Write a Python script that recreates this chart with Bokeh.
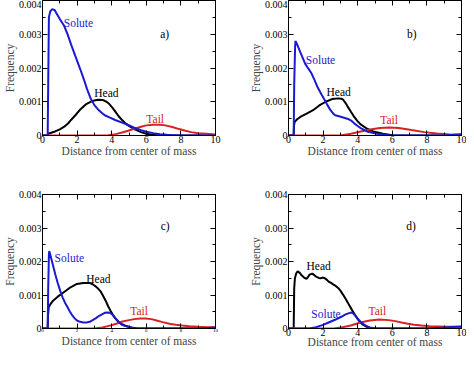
from bokeh.plotting import figure
from bokeh.models import LinearAxis, SingleIntervalTicker, Label, Range1d, PrintfTickFormatter
from bokeh.layouts import row, column
from bokeh.embed import file_html
from bokeh.resources import INLINE

FONT = "Liberation Serif"
BLUE = "#1a1ad2"
RED = "#d82222"
BLACK = "#000000"

X_LABEL = "Distance from center of mass"
Y_LABEL = "Frequency"
X_RANGE = (0, 10)
Y_RANGE = (0, 0.004)

# ---------------- panel a ----------------
A_SOLUTE_X = [0, 0.3, 0.33, 0.37, 0.45, 0.55, 0.7, 0.83, 1.0, 1.25, 1.45, 1.65, 1.9, 2.2, 2.4, 2.57, 2.8, 3.0,
              3.2, 3.4, 3.6, 3.9, 4.2, 4.6, 4.95, 5.3, 5.7, 6.0, 6.4, 6.8, 7.2, 7.6, 8.0, 9.0, 10]
A_SOLUTE_Y = [0, 0, 0.0015, 0.0035, 0.00368, 0.00374, 0.00372, 0.0036, 0.00345, 0.00325, 0.003, 0.0027,
              0.00235, 0.00194, 0.00165, 0.00138, 0.00108, 0.0009, 0.00078, 0.00068, 0.0006, 0.00053, 0.00046,
              0.00038, 0.00031, 0.00023, 0.00016, 0.00011, 0.00007, 0.00004, 0.00002, 0.00001, 0, 0, 0]
A_HEAD_X = [0, 0.3, 0.32, 0.5, 0.73, 1.0, 1.28, 1.5, 1.65, 1.9, 2.2, 2.5, 2.75, 3.0, 3.2, 3.5, 3.7, 3.85, 4.05,
            4.22, 4.4, 4.6, 4.8, 4.95, 5.3, 5.7, 6.0, 6.24, 6.8, 10]
A_HEAD_Y = [0, 0, 0.00005, 0.00008, 0.00012, 0.00018, 0.00027, 0.00037, 0.00046, 0.0006, 0.00078, 0.00092,
            0.00099, 0.00104, 0.00106, 0.00105, 0.001, 0.00094, 0.00082, 0.0007, 0.00057, 0.00046, 0.00036,
            0.0003, 0.00019, 0.0001, 0.00005, 0.00003, 0, 0]
A_TAIL_X = [0, 3.5, 3.8, 4.22, 4.6, 4.95, 5.3, 5.7, 6.0, 6.4, 6.8, 7.1, 7.5, 7.9, 8.26, 8.6, 9.0, 9.5, 10]
A_TAIL_Y = [0, 0, 0.00001, 0.00004, 0.00009, 0.00014, 0.0002, 0.00026, 0.0003, 0.00032, 0.00032, 0.0003,
            0.00025, 0.00019, 0.00014, 0.0001, 0.00007, 0.00005, 0.00003]

# ---------------- panel b ----------------
B_SOLUTE_X = [0, 0.3, 0.33, 0.38, 0.4, 0.5, 0.68, 0.96, 1.15, 1.32, 1.5, 1.69, 1.9, 2.06, 2.25, 2.43, 2.6, 2.7,
              3.07, 3.44, 3.65, 3.8, 4.0, 4.17, 4.54, 5.1, 5.8, 6.5, 9.0, 9.5, 10]
B_SOLUTE_Y = [0, 0, 0.0015, 0.0026, 0.0028, 0.0027, 0.00247, 0.00213, 0.00198, 0.00185, 0.00165, 0.00142,
              0.00122, 0.00108, 0.0009, 0.00075, 0.00064, 0.0006, 0.00055, 0.00049, 0.00043, 0.00036, 0.00028,
              0.00022, 0.00012, 0.00005, 0.00001, 0, 0, 0.00002, 0.00004]
B_HEAD_X = [0, 0.3, 0.32, 0.36, 0.5, 0.68, 1.05, 1.42, 1.78, 2.15, 2.52, 2.89, 3.05, 3.16, 3.3, 3.44, 3.6, 3.8,
            4.0, 4.17, 4.54, 4.9, 5.46, 6.0, 6.5, 10]
B_HEAD_Y = [0, 0, 0.0003, 0.00041, 0.00048, 0.00055, 0.00065, 0.00075, 0.00089, 0.001, 0.00108, 0.0011,
            0.00109, 0.00106, 0.00096, 0.00084, 0.00071, 0.00055, 0.00042, 0.00033, 0.0002, 0.00012, 0.00005,
            0.00001, 0, 0]
B_TAIL_X = [0, 2.8, 3.07, 3.62, 4.17, 4.72, 5.28, 5.83, 6.38, 7.11, 7.85, 8.58, 9.32, 10]
B_TAIL_Y = [0, 0, 0.00001, 0.00005, 0.00012, 0.00018, 0.00022, 0.00024, 0.00022, 0.00016, 0.0001, 0.00006,
            0.00003, 0.00002]

# ---------------- panel c ----------------
C_SOLUTE_X = [0, 0.3, 0.33, 0.37, 0.39, 0.45, 0.61, 0.75, 0.88, 1.02, 1.16, 1.3, 1.44, 1.58, 1.71, 1.85, 1.99,
              2.17, 2.36, 2.55, 2.73, 2.9, 3.09, 3.28, 3.46, 3.6, 3.74, 3.88, 4.01, 4.15, 4.29, 4.43, 4.57, 4.75,
              4.94, 5.3, 5.6, 9.0, 10]
C_SOLUTE_Y = [0, 0, 0.0012, 0.0022, 0.00231, 0.0022, 0.00188, 0.0016, 0.00136, 0.00113, 0.00093, 0.00077,
              0.00064, 0.00051, 0.0004, 0.00031, 0.00024, 0.0002, 0.00018, 0.00018, 0.0002, 0.00025, 0.00031,
              0.00038, 0.00043, 0.00047, 0.00048, 0.00047, 0.00043, 0.00035, 0.00026, 0.00018, 0.00012,
              0.00008, 0.00005, 0.00001, 0, 0, 0.00003]
C_HEAD_X = [0, 0.3, 0.32, 0.36, 0.45, 0.61, 0.88, 1.25, 1.62, 1.99, 2.36, 2.73, 2.9, 3.09, 3.25, 3.37, 3.5,
            3.65, 3.78, 3.92, 4.06, 4.2, 4.34, 4.48, 4.75, 5.12, 5.49, 10]
C_HEAD_Y = [0, 0, 0.0004, 0.00064, 0.00072, 0.00083, 0.00095, 0.00109, 0.00123, 0.00133, 0.00136, 0.00136,
            0.00132, 0.00125, 0.00117, 0.0011, 0.00098, 0.00083, 0.00068, 0.00054, 0.00042, 0.00031, 0.00023,
            0.00016, 0.00009, 0.00003, 0, 0]
C_TAIL_X = [0, 3.0, 3.46, 4.01, 4.3, 4.57, 5.0, 5.3, 5.65, 5.95, 6.3, 6.59, 6.95, 7.33, 7.7, 8.07, 8.5, 8.99,
            9.5, 10]
C_TAIL_Y = [0, 0, 0.00003, 0.0001, 0.00015, 0.0002, 0.00025, 0.00028, 0.0003, 0.0003, 0.00028, 0.00024,
            0.00019, 0.00014, 0.00011, 0.00009, 0.00007, 0.00005, 0.00004, 0.00004]

# ---------------- panel d ----------------
D_HEAD_X = [0, 0.3, 0.33, 0.37, 0.45, 0.53, 0.65, 0.77, 0.9, 1.04, 1.12, 1.22, 1.37, 1.48, 1.59, 1.75, 1.86,
            2.0, 2.1, 2.2, 2.32, 2.46, 2.6, 2.73, 2.87, 3.0, 3.14, 3.28, 3.42, 3.55, 3.69, 3.83, 3.97, 4.1,
            4.24, 4.38, 4.52, 4.79, 10]
D_HEAD_Y = [0, 0, 0.0012, 0.0015, 0.00165, 0.00171, 0.00166, 0.00158, 0.00152, 0.00148, 0.00153, 0.00161,
            0.00164, 0.0016, 0.00155, 0.00151, 0.0015, 0.00152, 0.0015, 0.00146, 0.0014, 0.00136, 0.00131,
            0.00127, 0.00121, 0.00113, 0.00102, 0.0009, 0.00078, 0.00066, 0.00054, 0.00042, 0.00031, 0.00021,
            0.00014, 0.00009, 0.00005, 0, 0]
D_SOLUTE_X = [0, 1.2, 1.59, 1.96, 2.32, 2.69, 3.05, 3.3, 3.5, 3.64, 3.76, 3.88, 4.0, 4.15, 4.28, 4.42, 4.56,
              4.7, 5.06, 8.0, 9.0, 10]
D_SOLUTE_Y = [0, 0, 0.00004, 0.0001, 0.00018, 0.00026, 0.00035, 0.00042, 0.00046, 0.00048, 0.00044, 0.00037,
              0.00029, 0.00021, 0.00015, 0.0001, 0.00006, 0.00003, 0, 0, 0.00003, 0.00006]
D_TAIL_X = [0, 2.6, 3.05, 3.6, 4.15, 4.7, 5.25, 5.8, 6.17, 6.53, 6.9, 7.26, 7.7, 8.17, 9.09, 10]
D_TAIL_Y = [0, 0, 0.00003, 0.00009, 0.00018, 0.00024, 0.00027, 0.00025, 0.00022, 0.00018, 0.00014, 0.00011,
            0.00009, 0.00007, 0.00005, 0.00005]

# text annotations (text, x, y, colour)
A_LABELS = [("Solute", 1.23, 0.00333, BLUE), ("Head", 2.99, 0.00127, BLACK), ("Tail", 6.0, 0.0005, RED)]
B_LABELS = [("Solute", 1.0, 0.00224, BLUE), ("Head", 2.2, 0.0013, BLACK), ("Tail", 5.3, 0.00047, RED)]
C_LABELS = [("Solute", 0.7, 0.00209, BLUE), ("Head", 2.53, 0.00148, BLACK), ("Tail", 5.07, 0.00052, RED)]
D_LABELS = [("Head", 1.04, 0.00188, BLACK), ("Solute", 1.32, 0.00042, BLUE), ("Tail", 4.62, 0.00052, RED)]
PANEL_TAGS = [("a)", 6.8, 0.00302), ("b)", 6.85, 0.00302), ("c)", 6.83, 0.00307), ("d)", 6.8, 0.00307)]


def style_axis(ax, label_size):
    ax.axis_line_color = "black"
    ax.axis_line_width = 1
    ax.major_tick_in = 5
    ax.major_tick_out = 0
    ax.minor_tick_in = 3
    ax.minor_tick_out = 0
    ax.major_tick_line_color = "black"
    ax.minor_tick_line_color = "black"
    ax.major_label_text_font = FONT
    ax.major_label_text_font_size = label_size
    ax.major_label_text_color = "black"
    ax.major_label_standoff = 0


def hidden_labels(ax):
    ax.major_label_text_font_size = "1px"
    ax.major_label_text_color = None
    ax.major_label_standoff = 0


def make_panel(series, labels, tag, width, height, bl, br, bt, bb, xtick_size, xlab_standoff):
    p = figure(width=width, height=height, x_range=Range1d(*X_RANGE), y_range=Range1d(*Y_RANGE),
               x_axis_type=None, y_axis_type=None, output_backend="svg", toolbar_location=None,
               min_border_left=bl, min_border_right=br, min_border_top=bt, min_border_bottom=bb)
    p.outline_line_color = "black"
    p.outline_line_width = 1
    p.background_fill_color = "white"
    p.border_fill_color = "white"

    xb = LinearAxis(ticker=SingleIntervalTicker(interval=2, num_minor_ticks=2), axis_label=X_LABEL)
    style_axis(xb, xtick_size)
    xb.axis_label_text_font = FONT
    xb.axis_label_text_font_size = "11.5px"
    xb.axis_label_text_font_style = "normal"
    xb.axis_label_standoff = xlab_standoff
    p.add_layout(xb, "below")

    yl = LinearAxis(ticker=SingleIntervalTicker(interval=0.001, num_minor_ticks=2),
                    formatter=PrintfTickFormatter(format="%.3f"),
                    major_label_overrides={0: "0"}, axis_label=Y_LABEL)
    style_axis(yl, "10px")
    yl.major_label_standoff = 1
    yl.axis_label_text_font = FONT
    yl.axis_label_text_font_size = "11.5px"
    yl.axis_label_text_font_style = "normal"
    yl.axis_label_standoff = 0
    p.add_layout(yl, "left")

    xt = LinearAxis(ticker=SingleIntervalTicker(interval=2, num_minor_ticks=2))
    style_axis(xt, "1px")
    hidden_labels(xt)
    p.add_layout(xt, "above")
    yr = LinearAxis(ticker=SingleIntervalTicker(interval=0.001, num_minor_ticks=2))
    style_axis(yr, "1px")
    hidden_labels(yr)
    p.add_layout(yr, "right")

    for xs, ys, color in series:
        p.line(xs, ys, line_color=color, line_width=2)

    for text, x, y, color in labels:
        p.add_layout(Label(x=x, y=y, text=text, text_color=color, text_font=FONT,
                           text_font_size="11.5px", text_baseline="middle", text_align="left"))
    ttext, tx, ty = tag
    p.add_layout(Label(x=tx, y=ty, text=ttext, text_color="black", text_font=FONT,
                       text_font_size="11.5px", text_baseline="middle", text_align="left"))
    return p


pa = make_panel([(A_HEAD_X, A_HEAD_Y, BLACK), (A_TAIL_X, A_TAIL_Y, RED), (A_SOLUTE_X, A_SOLUTE_Y, BLUE)],
                A_LABELS, PANEL_TAGS[0], 246, 169, 37, 31, 0, 34, "10px", -1)
pb = make_panel([(B_HEAD_X, B_HEAD_Y, BLACK), (B_TAIL_X, B_TAIL_Y, RED), (B_SOLUTE_X, B_SOLUTE_Y, BLUE)],
                B_LABELS, PANEL_TAGS[1], 220, 169, 37, 5, 0, 34, "10px", -1)
pc = make_panel([(C_HEAD_X, C_HEAD_Y, BLACK), (C_TAIL_X, C_TAIL_Y, RED), (C_SOLUTE_X, C_SOLUTE_Y, BLUE)],
                C_LABELS, PANEL_TAGS[2], 246, 181, 37, 31, 25, 21, "5px", 0)
pd = make_panel([(D_HEAD_X, D_HEAD_Y, BLACK), (D_TAIL_X, D_TAIL_Y, RED), (D_SOLUTE_X, D_SOLUTE_Y, BLUE)],
                D_LABELS, PANEL_TAGS[3], 220, 181, 37, 5, 25, 21, "10px", -3)

layout = column(row(pa, pb), row(pc, pd))
open("out.html", "w").write(file_html(layout, INLINE))
